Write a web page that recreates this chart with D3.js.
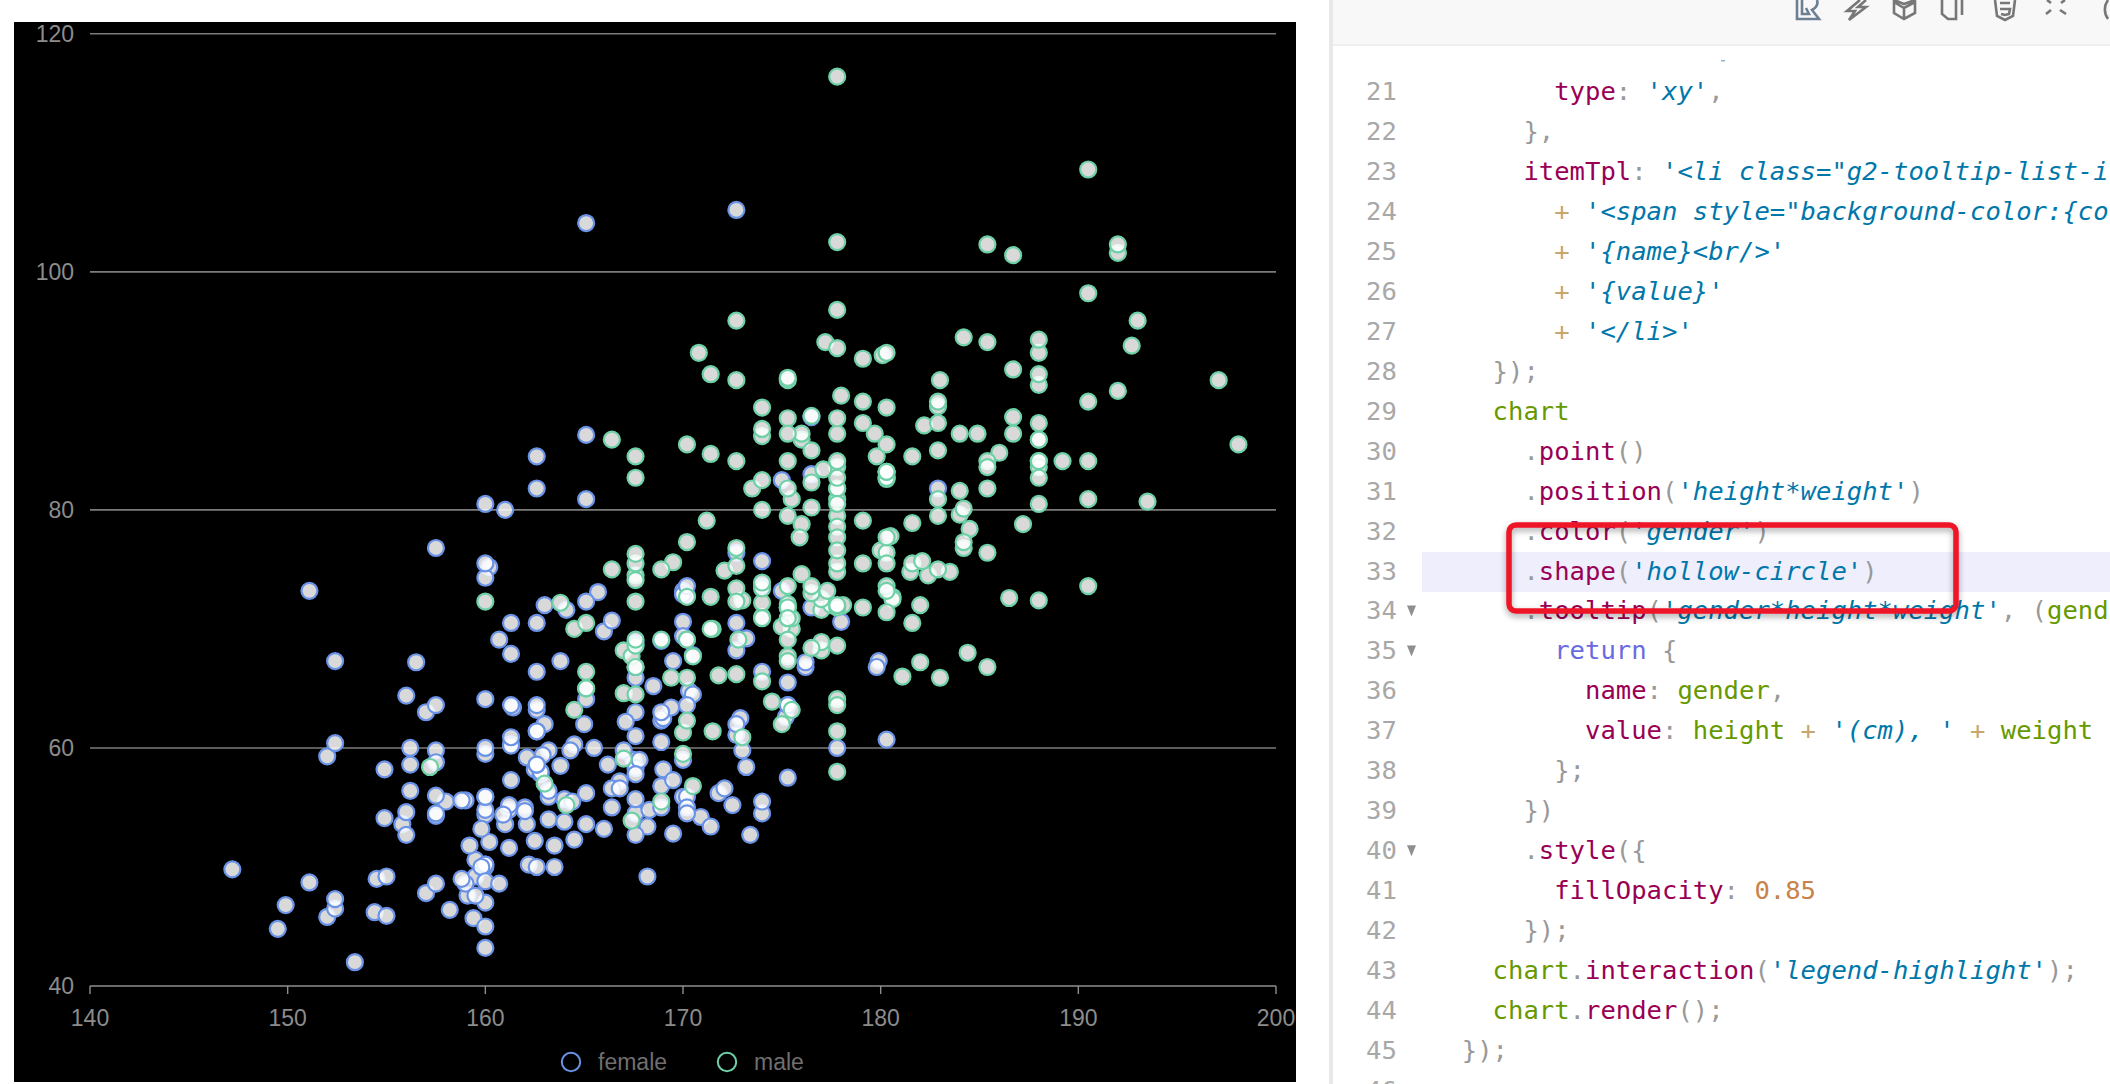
<!DOCTYPE html>
<html><head><meta charset="utf-8">
<style>html,body{margin:0;padding:0;background:#fff;overflow:hidden}svg{display:block}</style>
<script src="https://cdn.jsdelivr.net/npm/d3@7"></script></head><body>
<svg id="c" width="2110" height="1084"></svg>
<script>
const xTicks=[140,150,160,170,180,190,200];
const yTicks=[40,60,80,100,120];
const legendItems=["female","male"];
const femalePoints=[[161.2,51.6],[167.5,59.0],[159.5,49.2],[157.0,63.0],[155.8,53.6],[170.0,59.0],[159.1,47.6],[166.0,69.8],[176.2,66.8],[160.2,75.2],[172.5,55.2],[170.9,54.2],[172.9,62.5],[153.4,42.0],[160.0,50.0],[147.2,49.8],[168.2,49.2],[175.0,73.2],[157.0,47.8],[167.6,68.8],[159.5,50.6],[175.0,82.5],[166.8,57.2],[176.5,87.8],[170.2,72.8],[174.0,54.5],[173.0,59.8],[179.9,67.3],[170.5,67.8],[160.0,47.0],[154.4,46.2],[162.0,55.0],[176.5,83.0],[160.0,54.4],[152.0,45.8],[162.1,53.6],[170.0,73.2],[160.2,52.1],[161.3,67.9],[166.4,56.6],[168.9,62.3],[163.8,58.5],[167.6,54.5],[160.0,50.2],[161.3,60.3],[167.6,58.3],[165.1,56.2],[160.0,50.2],[170.0,72.9],[157.5,59.8],[167.6,61.0],[160.7,69.1],[163.2,55.9],[152.4,46.5],[157.5,54.3],[168.3,54.8],[180.3,60.7],[165.5,60.0],[165.0,62.0],[164.5,60.3],[156.0,52.7],[160.0,74.3],[163.0,62.0],[165.7,73.1],[161.0,80.0],[162.0,54.7],[166.0,53.2],[174.0,75.7],[172.7,61.1],[167.6,55.7],[151.1,48.7],[164.5,52.3],[163.5,50.0],[152.0,59.3],[169.0,62.5],[164.0,55.7],[161.2,54.8],[155.0,45.9],[170.0,70.6],[176.2,67.2],[170.0,69.4],[162.5,58.2],[170.3,64.8],[164.1,71.6],[169.5,52.8],[163.2,59.8],[154.5,49.0],[159.8,50.0],[173.2,69.2],[170.0,55.9],[161.4,63.4],[169.0,58.2],[166.2,58.6],[159.4,45.7],[162.5,52.2],[159.0,48.6],[162.8,57.8],[159.0,55.6],[179.8,66.8],[162.9,59.4],[161.0,53.6],[151.1,73.2],[168.2,53.4],[168.9,69.0],[173.2,58.4],[171.8,56.2],[178.0,70.6],[164.3,59.8],[163.0,72.0],[168.5,65.2],[166.8,56.6],[172.7,105.2],[163.5,51.8],[169.4,63.4],[167.8,59.0],[159.5,47.6],[167.6,63.0],[161.2,55.2],[160.0,45.0],[163.2,54.0],[162.2,50.2],[161.3,60.2],[149.5,44.8],[157.5,58.8],[163.2,56.4],[172.7,62.0],[155.0,49.2],[156.5,67.2],[164.0,53.8],[160.9,54.4],[162.8,58.0],[167.0,59.8],[160.0,54.8],[160.0,43.2],[168.9,60.5],[158.2,46.4],[156.0,64.4],[160.0,48.8],[167.1,62.2],[158.0,55.5],[167.6,57.8],[156.0,54.6],[162.1,59.2],[173.4,52.7],[159.8,53.2],[170.5,64.5],[159.2,51.8],[157.5,56.0],[161.3,63.6],[162.6,63.2],[160.0,59.5],[168.9,56.8],[165.1,64.1],[162.6,50.0],[165.1,72.3],[166.4,55.0],[160.0,55.9],[152.4,60.4],[170.2,69.1],[162.6,84.5],[170.2,55.9],[158.8,55.6],[172.7,76.4],[167.6,65.9],[162.6,58.6],[167.6,66.8],[156.2,56.4],[175.2,62.6],[172.1,56.6],[162.6,58.6],[160.0,55.9],[165.1,104.1],[165.1,86.3],[165.1,80.9],[160.0,80.5],[162.6,81.8],[182.9,81.8],[175.3,63.6],[171.4,53.4],[157.5,54.5],[165.1,53.6],[160.0,60.0],[174.0,73.6],[162.6,61.4],[174.0,55.5],[162.6,63.6],[161.3,60.9],[156.2,60.0],[149.9,46.8],[169.5,57.3],[160.0,64.1],[175.3,63.6],[169.5,67.3],[160.0,75.5],[172.7,68.2],[162.6,61.4],[157.5,76.8],[176.5,71.8],[164.4,55.5],[160.7,48.6],[174.0,66.4],[163.8,67.3],[154.9,54.1],[154.9,58.2],[156.2,58.6],[152.4,67.3],[157.5,63.6],[161.3,57.3],[161.3,70.5],[162.6,70.5],[162.6,66.4],[166.4,70.7],[157.5,48.6],[152.4,47.3],[158.8,49.0],[167.6,52.7],[168.9,55.0],[170.2,55.0],[170.2,54.5],[175.3,57.5],[177.8,60.0],[168.9,63.0],[170.2,63.6],[170.2,73.6],[172.7,70.5],[175.3,65.5]];
const malePoints=[[174.0,65.6],[175.3,71.8],[193.5,80.7],[186.5,72.6],[187.2,78.8],[181.5,74.8],[184.0,86.4],[184.5,78.4],[175.0,62.0],[184.0,81.6],[180.0,76.6],[177.8,83.6],[192.0,90.0],[176.0,74.6],[174.0,71.0],[184.0,79.6],[192.7,93.8],[171.5,70.0],[173.0,72.4],[176.0,85.9],[176.0,78.8],[180.5,77.8],[172.7,66.2],[176.0,86.4],[173.5,81.8],[178.0,89.6],[180.3,82.8],[180.3,76.4],[164.5,63.2],[173.0,60.9],[183.5,74.8],[175.5,70.0],[188.0,72.4],[189.2,84.1],[172.8,69.1],[170.0,59.5],[182.0,67.2],[170.0,61.3],[177.8,68.6],[184.2,80.1],[186.7,87.8],[171.4,84.7],[172.7,73.4],[175.3,72.1],[180.3,82.6],[182.9,88.7],[188.0,84.1],[177.2,94.1],[172.1,74.9],[167.0,59.1],[169.5,75.6],[174.0,86.2],[172.7,75.3],[182.2,87.1],[164.1,55.2],[163.0,57.0],[171.5,61.4],[184.2,76.8],[174.0,86.8],[174.0,72.2],[177.0,71.6],[186.0,84.8],[167.0,68.2],[171.8,66.1],[182.0,72.0],[167.0,64.6],[177.8,74.8],[164.5,70.0],[192.0,101.6],[175.5,63.2],[171.2,79.1],[181.6,78.9],[167.4,67.7],[181.1,66.0],[177.0,68.2],[174.5,63.9],[177.5,72.0],[170.5,56.8],[182.4,74.5],[197.1,90.9],[180.1,93.0],[175.5,80.9],[180.6,72.7],[184.4,68.0],[175.5,70.9],[180.6,72.5],[177.0,72.5],[177.1,83.4],[181.6,75.5],[176.5,73.0],[175.0,70.2],[174.0,73.4],[165.1,70.5],[177.0,68.9],[192.0,102.3],[176.5,68.4],[169.4,65.9],[182.1,75.7],[179.8,84.5],[175.3,87.7],[184.9,86.4],[177.3,73.2],[167.4,53.9],[178.1,72.0],[168.9,55.5],[157.2,58.4],[180.3,83.2],[170.2,72.7],[177.8,64.1],[172.7,72.3],[165.1,65.0],[186.7,86.4],[165.1,65.0],[174.0,88.6],[175.3,84.1],[185.4,66.8],[177.8,75.5],[180.3,93.2],[180.3,82.7],[177.8,58.0],[177.8,79.5],[177.8,78.6],[177.8,71.8],[177.8,116.4],[163.8,72.2],[188.0,83.6],[198.1,85.5],[175.3,90.9],[166.4,85.9],[190.5,89.1],[166.4,75.0],[177.8,77.7],[179.7,86.4],[172.7,90.9],[190.5,73.6],[185.4,76.4],[168.9,69.1],[167.6,74.5],[175.3,79.5],[170.2,69.1],[190.5,108.6],[177.8,86.4],[190.5,80.9],[177.8,87.7],[184.2,94.5],[176.5,80.2],[177.8,72.0],[180.3,71.4],[171.4,72.7],[172.7,84.1],[172.7,76.8],[177.8,63.6],[177.8,80.9],[182.9,80.9],[170.2,85.5],[167.6,68.6],[175.3,67.7],[165.1,66.4],[185.4,102.3],[181.6,70.5],[172.7,95.9],[190.5,84.1],[179.1,87.3],[175.3,71.8],[170.2,65.9],[193.0,95.9],[171.4,91.4],[177.8,81.8],[177.8,96.8],[167.6,69.1],[167.6,82.7],[180.3,75.5],[182.9,79.5],[176.5,73.6],[186.7,91.8],[188.0,84.1],[188.0,85.9],[177.8,81.8],[174.0,82.5],[177.8,80.5],[171.4,70.0],[185.4,81.8],[185.4,84.1],[188.0,90.5],[188.0,91.4],[182.9,89.1],[176.5,85.0],[175.3,69.1],[175.3,73.6],[188.0,80.5],[188.0,82.7],[175.3,86.4],[170.5,67.7],[179.1,92.7],[177.8,93.6],[175.3,70.9],[182.9,75.0],[170.8,93.2],[188.0,93.2],[180.3,77.7],[177.8,61.4],[185.4,94.1],[168.9,75.0],[185.4,83.6],[180.3,85.5],[174.0,73.9],[167.6,66.8],[182.9,87.3],[160.0,72.3],[180.3,88.6],[167.6,75.5],[186.7,101.4],[175.3,91.1],[175.3,67.3],[175.9,77.7],[175.3,81.8],[179.1,75.5],[181.6,84.5],[177.8,76.6],[182.9,85.0],[177.8,102.5],[184.2,77.3],[179.1,71.8],[176.5,87.9],[188.0,94.3],[174.0,70.9],[167.6,64.5],[170.2,77.3],[167.6,72.3],[188.0,87.3],[174.0,80.0],[176.5,82.3],[180.3,73.6],[167.6,74.1],[188.0,85.9],[180.3,73.2],[167.6,76.3],[183.0,65.9],[183.0,90.9],[179.1,89.1],[170.2,62.3],[177.8,82.7],[179.1,79.1],[190.5,98.2],[177.8,84.1],[180.3,83.2],[180.3,83.2],[167.6,84.5]];
// code listing: [line number, indent, tokens[[kind,text]...]]
const codeLines=[
[21,8,[["p","type"],["u",": "],["s","'xy'"],["u",","]]],
[22,6,[["u","},"]]],
[23,6,[["p","itemTpl"],["u",": "],["s","'<li class=\"g2-tooltip-list-i"]]],
[24,8,[["o","+ "],["s","'<span style=\"background-color:{co"]]],
[25,8,[["o","+ "],["s","'{name}<br/>'"]]],
[26,8,[["o","+ "],["s","'{value}'"]]],
[27,8,[["o","+ "],["s","'</li>'"]]],
[28,4,[["u","});"]]],
[29,4,[["g","chart"]]],
[30,6,[["u","."],["p","point"],["u","()"]]],
[31,6,[["u","."],["p","position"],["u","("],["s","'height*weight'"],["u",")"]]],
[32,6,[["u","."],["p","color"],["u","("],["s","'gender'"],["u",")"]]],
[33,6,[["u","."],["p","shape"],["u","("],["s","'hollow-circle'"],["u",")"]]],
[34,6,[["u","."],["p","tooltip"],["u","("],["s","'gender*height*weight'"],["u",", ("],["g","gend"]]],
[35,8,[["k","return"],["u"," {"]]],
[36,10,[["p","name"],["u",": "],["g","gender"],["u",","]]],
[37,10,[["p","value"],["u",": "],["g","height"],["o"," + "],["s","'(cm), '"],["o"," + "],["g","weight"]]],
[38,8,[["u","};"]]],
[39,6,[["u","})"]]],
[40,6,[["u","."],["p","style"],["u","({"]]],
[41,8,[["p","fillOpacity"],["u",": "],["n","0.85"]]],
[42,6,[["u","});"]]],
[43,4,[["g","chart"],["u","."],["p","interaction"],["u","("],["s","'legend-highlight'"],["u",");"]]],
[44,4,[["g","chart"],["u","."],["p","render"],["u","();"]]],
[45,2,[["u","});"]]],
[46,0,[]]];
const foldLines=[34,35,40];
const tokenColors={p:"#990055",s:"#0077aa",g:"#669900",u:"#999999",o:"#c9a66b",k:"#6a6ae0",n:"#c8824a"};

const svg=d3.select("#c");
const x=d3.scaleLinear().domain([140,200]).range([90,1276]);
const y=d3.scaleLinear().domain([40,120]).range([986,33.8]);
const color=d3.scaleOrdinal().domain(legendItems).range(["#6a92e6","#6dd0a6"]);
const sans="'Liberation Sans',Arial,sans-serif", mono="'DejaVu Sans Mono',monospace";

/* ---- code panel ---- */
const lineY=d3.scaleLinear().domain([21,45]).range([100,1059]);
const charW=15.4, baseX=1431;
svg.append("rect").attr("x",1422).attr("y",552).attr("width",688).attr("height",40).attr("fill","#eeeefc");
const code=svg.append("g").attr("font-family",mono).attr("font-size",25.6);
codeLines.forEach(([n,ind,toks])=>{
  code.append("text").attr("x",1366).attr("y",lineY(n)).attr("fill","#a8a8a8").text(n);
  let col=ind;
  toks.forEach(([k,s])=>{
    code.append("text").attr("x",baseX+col*charW).attr("y",lineY(n))
      .attr("xml:space","preserve").style("white-space","pre")
      .attr("textLength",s.length*charW).attr("lengthAdjust","spacingAndGlyphs")
      .attr("fill",tokenColors[k]).attr("font-style",k==="s"?"italic":null).text(s);
    col+=s.length;
  });
});
code.selectAll("path.fold").data(foldLines).join("path").attr("class","fold")
  .attr("d",n=>`M1407 ${lineY(n)-14}h9l-4.5 11z`).attr("fill","#8f8f8f");
svg.append("rect").attr("x",1721).attr("y",60).attr("width",4).attr("height",1.5).attr("fill","#8ab8cc");
/* toolbar */
svg.append("rect").attr("x",1331).attr("y",0).attr("width",779).attr("height",44).attr("fill","#f8f8f8");
svg.append("rect").attr("x",1331).attr("y",44).attr("width",779).attr("height",2).attr("fill","#efefef");
svg.append("rect").attr("x",1329).attr("y",0).attr("width",4).attr("height",1084).attr("fill","#e8e8e8");
const icons=svg.append("g").attr("fill","none").attr("stroke","#777").attr("stroke-width",2.6);
icons.append("path").attr("stroke","#6c7f93").attr("d","M1797 0V19H1819L1812 10Q1819 6 1817 0M1802 0V14H1809L1806 8");
icons.append("path").attr("d","M1860 0L1847 11H1855L1849 20L1866 7H1858L1866 0");
icons.append("path").attr("d","M1894 2L1904 8L1915 2V13L1904 19L1894 13ZM1904 8V19M1894 0L1904 4L1915 0");
icons.append("path").attr("d","M1942 0V14L1948 19H1956V0M1962 0V15");
icons.append("path").attr("d","M1995 0L1997 16L2005 20L2013 16L2015 0M2000 3H2010M2000 9H2010L2009 14L2005 15L2001 14");
icons.append("path").attr("d","M2046 14L2051 10M2066 14L2060 10M2047 0L2051 3M2065 0L2061 3");
icons.append("path").attr("d","M2108 0A16 16 0 0 0 2108 19");
/* annotation box */
const defs=svg.append("defs");
const f=defs.append("filter").attr("id","sh").attr("x","-10%").attr("y","-20%").attr("width","120%").attr("height","140%");
f.append("feDropShadow").attr("dx",0).attr("dy",3).attr("stdDeviation",3).attr("flood-color","#000").attr("flood-opacity",.35);
svg.append("rect").attr("x",1509).attr("y",525).attr("width",447).attr("height",86).attr("rx",7)
  .attr("fill","none").attr("stroke","#ee1626").attr("stroke-width",5.5).attr("filter","url(#sh)");

/* ---- chart panel ---- */
svg.append("rect").attr("x",14).attr("y",22).attr("width",1282).attr("height",1060).attr("fill","#000");
const clip=defs.append("clipPath").attr("id","panel");
clip.append("rect").attr("x",14).attr("y",22).attr("width",1282).attr("height",1060);
const chart=svg.append("g").attr("clip-path","url(#panel)");
chart.selectAll("line.grid").data(yTicks).join("line").attr("class","grid")
  .attr("x1",x(140)).attr("x2",x(200)).attr("y1",d=>y(d)).attr("y2",d=>y(d))
  .attr("stroke",d=>d===40?"#8e8e8e":"#7b7b7b").attr("stroke-width",1.6);
chart.selectAll("line.tick").data(xTicks).join("line").attr("class","tick")
  .attr("x1",d=>x(d)).attr("x2",d=>x(d)).attr("y1",y(40)).attr("y2",y(40)+8)
  .attr("stroke","#8e8e8e").attr("stroke-width",1.4);
const ax=chart.append("g").attr("font-family",sans).attr("font-size",23).attr("fill","#8c8c8c");
ax.selectAll("text.yl").data(yTicks).join("text").attr("class","yl")
  .attr("x",74).attr("y",d=>y(d)+8).attr("text-anchor","end").text(d=>d);
ax.selectAll("text.xl").data(xTicks).join("text").attr("class","xl")
  .attr("x",d=>x(d)).attr("y",1026).attr("text-anchor","middle").text(d=>d);
[["female",femalePoints],["male",malePoints]].forEach(([name,pts])=>{
  chart.append("g").selectAll("circle").data(pts).join("circle")
    .attr("cx",d=>x(d[0])).attr("cy",d=>y(d[1])).attr("r",8)
    .attr("fill","#fff").attr("fill-opacity",.85)
    .attr("stroke",color(name)).attr("stroke-width",2.2);
});
const legendX=d3.scaleOrdinal().domain(legendItems).range([571,727]);
const lg=chart.append("g").selectAll("g").data(legendItems).join("g")
  .attr("transform",d=>`translate(${legendX(d)},1062)`);
lg.append("circle").attr("r",9.2).attr("fill","none").attr("stroke",d=>color(d)).attr("stroke-width",2);
lg.append("text").attr("x",27).attr("y",8).attr("font-family",sans).attr("font-size",23).attr("fill","#6f6f6f").text(d=>d);
</script></body></html>
